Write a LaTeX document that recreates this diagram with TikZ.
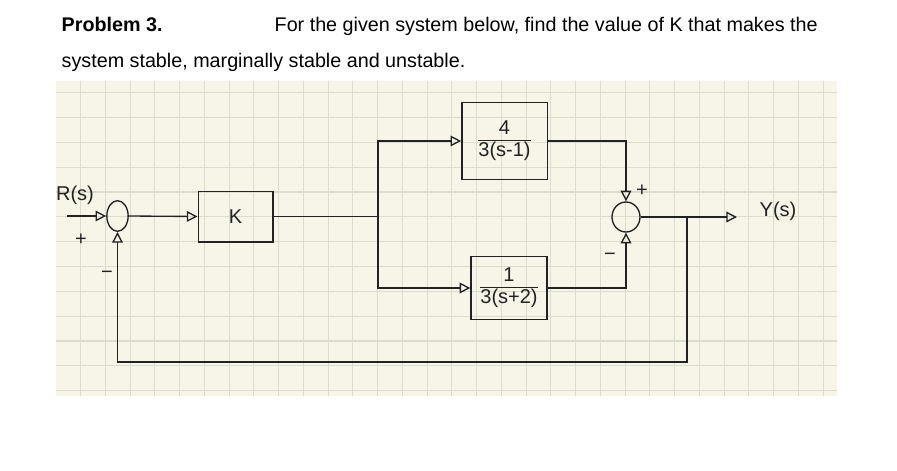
\documentclass[tikz,border=0pt]{standalone}
\usepackage{fontspec}
\setmainfont{Liberation Sans}
\usepackage{xcolor}
\usepackage{tikz}
\usetikzlibrary{
	arrows.meta,
	shapes.geometric,
	positioning
}
\definecolor{Paper}{RGB}{246,245,232}
\definecolor{GridLine}{RGB}{218,220,204}
\definecolor{Ink}{RGB}{34,34,34}

\begin{document}
\begin{tikzpicture}[x=0.75pt, y=-0.75pt,
		wire/.style={Ink, line width=1pt},
		sig/.style={wire, -{Triangle[open, length=8pt, width=8pt]}},
		blockbox/.style={draw=Ink, line width=1pt, inner sep=0pt, text=Ink, font=\fontsize{15}{17}\selectfont},
		sumnode/.style={draw=Ink, line width=1pt, ellipse, inner sep=0pt},
		sign/.style={text=Ink, font=\fontsize{15}{17}\selectfont},
		heading/.style={anchor=base west, font=\fontsize{14.8}{18}\selectfont}]
	\useasboundingbox (0,0) rectangle (897,471);
	% grid paper
	\fill[Paper] (56,81) rectangle (837,396);
	\foreach \i in {0,...,30}
		\draw[GridLine, line width=0.8pt] ({80.7+24.75*\i},81) -- ({80.7+24.75*\i},396);
	\foreach \j in {0,...,12}
		\draw[GridLine, line width=0.8pt] (56,{92.7+24.83*\j}) -- (837,{92.7+24.83*\j});
	% statement
	\node[heading, font=\fontsize{14.8}{18}\selectfont\bfseries] (title) at (57,31.5) {Problem 3.};
	\node[heading] (task) at (270,31.5) {For the given system below, find the value of K that makes the};
	\node[heading] (task2) at (57,67.5) {system stable, marginally stable and unstable.};
	% blocks
	\node[sumnode, minimum width=16pt, minimum height=23pt] (s1) at (117.5,216) {};
	\node[blockbox, minimum width=56pt, minimum height=38pt] (k) at (235.5,216.5) {K};
	\node[blockbox, minimum width=64pt, minimum height=58pt] (g1) at (504.5,141)
		{\begin{tabular}{@{}c@{}}4\\[-1pt]\hline 3(s-1)\end{tabular}};
	\node[blockbox, minimum width=57pt, minimum height=47pt] (g2) at (509,288)
		{\begin{tabular}{@{}c@{}}1\\[-1pt]\hline 3(s+2)\end{tabular}};
	\node[sumnode, minimum width=21pt, minimum height=22.5pt] (s2) at (626,217) {};
	\coordinate (rin) at (67,216);
	\coordinate (split) at (378,216.5);
	\coordinate (yout) at (737,217);
	\coordinate (tap) at (687,217);
	\coordinate (fb) at (687,362);
	% signals
	\draw[sig] (rin) -- (s1.west);
	\draw[sig] (s1.east) -- (k.west);
	\draw[wire] (k.east) -- (split);
	\draw[sig] (split) |- (g1.west);
	\draw[sig] (split) |- (g2.west);
	\draw[sig] (g1.east) -| (s2.north);
	\draw[sig] (g2.east) -| (s2.south);
	\draw[sig] (s2.east) -- (yout);
	\draw[sig] (tap) -- (fb) -| (s1.south);
	% labels
	\node[sign] (rlabel) at (75,195) {R(s)};
	\node[sign, anchor=west] (ylabel) at (755,211) {Y(s)};
	\node[sign] (p1) at (81,240) {+};
	\node[sign] (m1) at (107,275) {−};
	\node[sign] (p2) at (642,191) {+};
	\node[sign] (m2) at (610,257) {−};
\end{tikzpicture}
\end{document}
